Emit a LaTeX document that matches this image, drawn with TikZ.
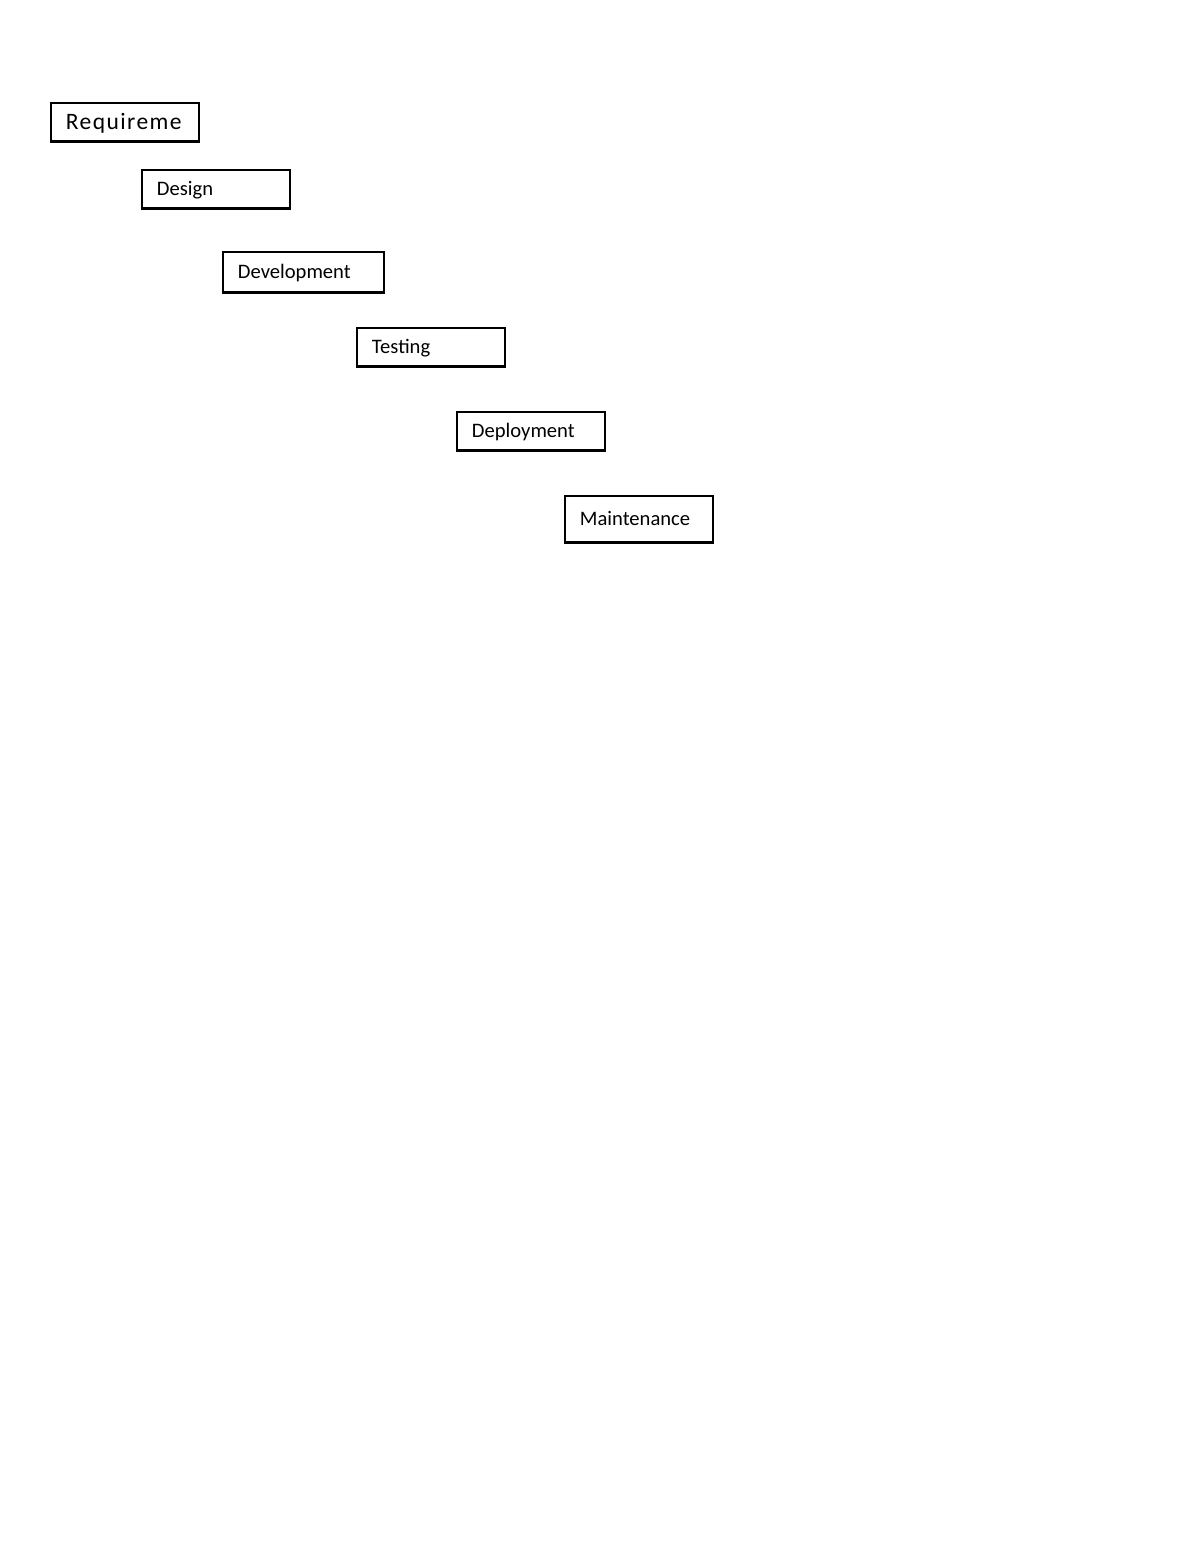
\documentclass[tikz,border=0pt]{standalone}
\usepackage{fontspec}
\setmainfont{Carlito}
\usepackage{tikz}
\usetikzlibrary{positioning}

\begin{document}
\begin{tikzpicture}[x=0.51pt,y=-0.51pt]
    \tikzstyle{phase} = [rectangle, draw, line width=1.1pt, anchor=north west,
               inner xsep=7.6pt, inner ysep=0pt, text width=60.2pt,
               minimum height=19.6pt, text depth=0.5pt, align=left,
               font=\fontsize{10.5}{12}\selectfont]

    \useasboundingbox (0,0) rectangle (1200,1553);

    % Stages of the waterfall
    \node [phase, font=\fontsize{12}{13}\selectfont\addfontfeatures{LetterSpace=6}] (req) at (50,102) {Requireme};
    \node [phase] (design) at (141,169) {Design};
    \node [phase, text width=66.9pt, minimum height=20.6pt] (dev) at (222,251) {Development};
    \node [phase] (test) at (356,327) {Testing};
    \node [phase] (deploy) at (456,411) {Deployment};
    \node [phase, minimum height=23.7pt] (maint) at (564,495) {Maintenance};

\end{tikzpicture}
\end{document}
